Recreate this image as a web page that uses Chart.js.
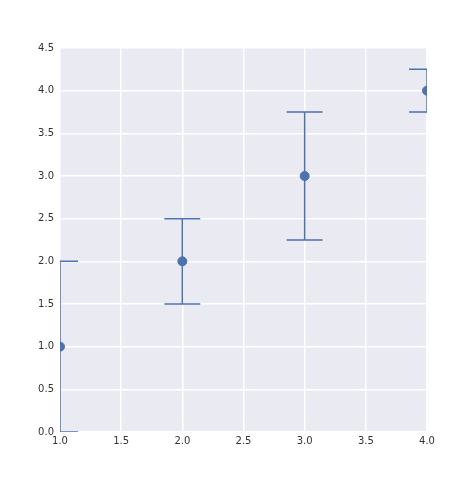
<!DOCTYPE html>
<html>
<head>
<meta charset="utf-8">
<script src="https://cdn.jsdelivr.net/npm/chart.js@4/dist/chart.umd.min.js"></script>
<style>
  html, body { margin: 0; padding: 0; background: #fff; }
  #wrap { width: 474px; height: 479px; }
</style>
</head>
<body>
<div id="wrap"><canvas id="myChart" width="474" height="479"></canvas></div>
<script>
// datos
const xValues = [1, 2, 3, 4];
const yValues = [1, 2, 3, 4];
const yErrors = [1, 0.5, 0.75, 0.25];
const xTicks = [1.0, 1.5, 2.0, 2.5, 3.0, 3.5, 4.0];
const yTicks = [0.0, 0.5, 1.0, 1.5, 2.0, 2.5, 3.0, 3.5, 4.0, 4.5];

const blue = '#4C72B0';

// barras de error dibujadas con las escalas del gráfico
const errorBars = {
    id: 'errorBars',
    beforeDatasetsDraw(chart) {
        const ctx = chart.ctx;
        const area = chart.chartArea;
        const xs = chart.scales.x;
        const ys = chart.scales.y;
        ctx.save();
        ctx.beginPath();
        ctx.rect(area.left, area.top, area.right - area.left, area.bottom - area.top);
        ctx.clip();
        ctx.strokeStyle = blue;
        ctx.lineWidth = 1.5;
        for (let i = 0; i < xValues.length; i++) {
            const px = xs.getPixelForValue(xValues[i]);
            const top = ys.getPixelForValue(yValues[i] + yErrors[i]);
            const bot = ys.getPixelForValue(yValues[i] - yErrors[i]);
            const cap = 18;
            ctx.beginPath();
            ctx.moveTo(px, top); ctx.lineTo(px, bot);
            ctx.moveTo(px - cap, top); ctx.lineTo(px + cap, top);
            ctx.moveTo(px - cap, bot); ctx.lineTo(px + cap, bot);
            ctx.stroke();
        }
        ctx.restore();
    }
};

// fondo gris del área de trazado
const plotBg = {
    id: 'plotBg',
    beforeDraw(chart) {
        const a = chart.chartArea;
        chart.ctx.save();
        chart.ctx.fillStyle = '#EAEAF2';
        chart.ctx.fillRect(a.left, a.top, a.right - a.left, a.bottom - a.top);
        chart.ctx.restore();
    }
};

const ctx = document.getElementById('myChart').getContext('2d');
const chart = new Chart(ctx, {
    type: 'scatter',
    data: {
        datasets: [{
            data: xValues.map((x, i) => ({ x: x, y: yValues[i] })),
            backgroundColor: blue,
            borderColor: blue,
            pointRadius: 4.5,
            pointHoverRadius: 4.5,
            clip: 0
        }]
    },
    options: {
        responsive: false,
        animation: false,
        events: [],
        layout: { padding: { top: 48, right: 47, left: 0, bottom: 0 } },
        plugins: { legend: { display: false }, tooltip: { enabled: false } },
        scales: {
            x: {
                type: 'linear',
                min: 1, max: 4,
                afterBuildTicks: s => { s.ticks = xTicks.map(v => ({ value: v })); },
                afterFit: s => { s.height = 47; },
                border: { display: false },
                grid: { color: '#ffffff', lineWidth: 1.5, drawTicks: false },
                ticks: {
                    padding: 3,
                    color: '#333333',
                    font: { family: 'DejaVu Sans', size: 10 },
                    callback: v => Number(v).toFixed(1),
                    maxRotation: 0
                }
            },
            y: {
                type: 'linear',
                min: 0, max: 4.5,
                afterBuildTicks: s => { s.ticks = yTicks.map(v => ({ value: v })); },
                afterFit: s => { s.width = 60; },
                border: { display: false },
                grid: { color: '#ffffff', lineWidth: 1.5, drawTicks: false },
                ticks: {
                    padding: 6,
                    color: '#333333',
                    font: { family: 'DejaVu Sans', size: 10 },
                    callback: v => Number(v).toFixed(1)
                }
            }
        }
    },
    plugins: [plotBg, errorBars]
});
</script>
</body>
</html>
